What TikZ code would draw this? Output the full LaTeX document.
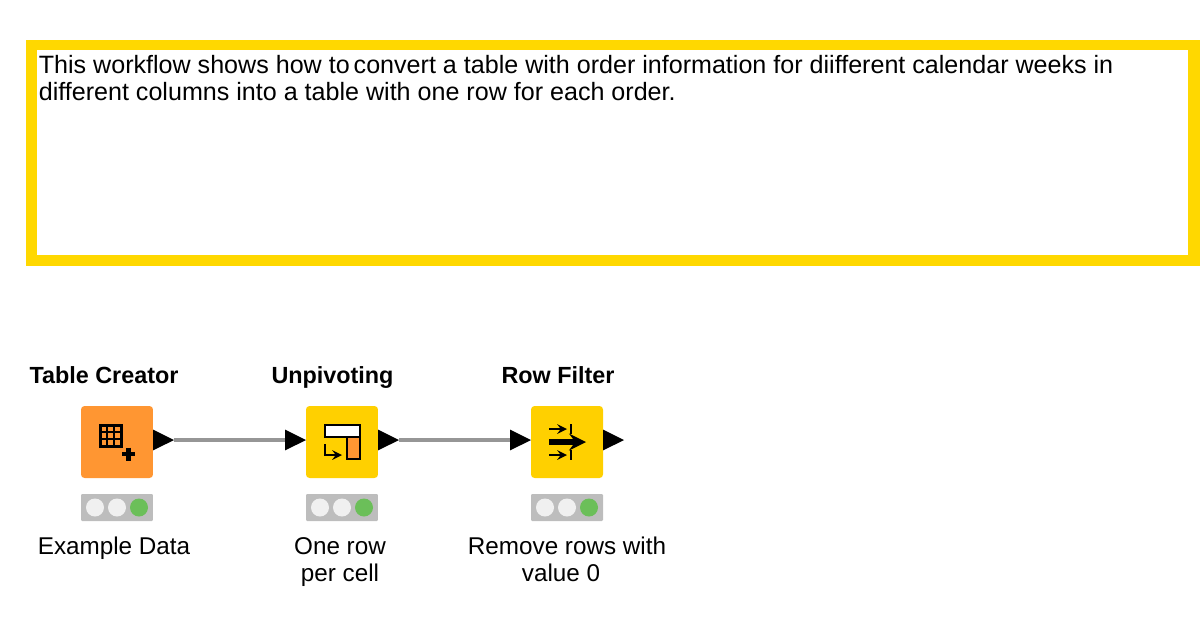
\documentclass[tikz,border=0pt]{standalone}
\usepackage{fontspec}
\setmainfont{Liberation Sans}
\usetikzlibrary{shapes.geometric}
\definecolor{annoyellow}{HTML}{FFD800}
\definecolor{mangle}{HTML}{FFD000}
\definecolor{source}{HTML}{FF9632}
\definecolor{lampgrey}{HTML}{BDBDBD}
\definecolor{lampoff}{HTML}{F0F0F0}
\definecolor{lampgreen}{HTML}{6BBF59}
\definecolor{wire}{HTML}{969696}
\tikzset{
  x=0.02cm,y=-0.02cm,
  nodebox/.style={rounded corners=2pt,minimum width=1.44cm,minimum height=1.44cm,inner sep=0pt},
  lampbar/.style={fill=lampgrey,rounded corners=0.6pt,minimum width=1.44cm,minimum height=0.54cm,inner sep=0pt},
  lamp/.style={circle,minimum size=0.36cm,inner sep=0pt},
  port/.style={isosceles triangle,isosceles triangle apex angle=53,fill=black,minimum height=0.42cm,inner sep=0pt,outer sep=0pt},
  title/.style={font=\fontsize{13.3}{15.3}\selectfont\bfseries,anchor=base},
  caption/.style={font=\fontsize{13.8}{15.3}\selectfont,align=center,anchor=north},
  link/.style={draw=wire,line width=0.09cm},
  glyph/.style={line width=0.05cm,draw=black}
}
\begin{document}
\begin{tikzpicture}
  \useasboundingbox (0,0) rectangle (1200,630);

  % Drawing annotation frame
  \fill [annoyellow] (26,39.5) rectangle (1200,265.5);
  \fill [white] (37,49.5) rectangle (1187.5,254.5);
  \node (note) [anchor=north west,inner sep=0pt,align=left,font=\fontsize{14.28}{15.4}\selectfont] at (38.5,54.5) {This workflow shows how to\hspace{0.08cm}convert a table with order information for diifferent calendar weeks in\\different columns into a table with one row for each order.};

  % Drawing node Table Creator
  \node (creator) [nodebox,fill=source] at (117,442) {};
  \node (creatorTitle) [title] at (104,383) {Table Creator};
  \node (creatorOut) [port,anchor=west] at (153,440) {};
  \node (creatorBar) [lampbar] at (117,507.5) {};
  \node (creatorA) [lamp,fill=lampoff] at (95,507.5) {};
  \node (creatorB) [lamp,fill=lampoff] at (117,507.5) {};
  \node (creatorC) [lamp,fill=lampgreen] at (139,507.5) {};
  \node (creatorText) [caption] at (114,531) {Example Data};
  % table glyph
  \draw [glyph,line width=0.06cm] (100,425) rectangle (121.5,446.5);
  \foreach \cellx in {107.2,114.3} \draw [glyph,line width=0.04cm] (\cellx,425) -- (\cellx,446.5);
  \foreach \celly in {432.2,439.3} \draw [glyph,line width=0.04cm] (100,\celly) -- (121.5,\celly);
  \draw [glyph,line width=0.09cm] (122,454) -- (135,454) (128.5,447.5) -- (128.5,460.5);

  % Drawing node Unpivoting
  \node (unpivot) [nodebox,fill=mangle] at (342,442) {};
  \node (unpivotTitle) [title] at (332.5,383) {Unpivoting};
  \node (unpivotIn) [port,anchor=east] at (306,440) {};
  \node (unpivotOut) [port,anchor=west] at (378,440) {};
  \node (unpivotBar) [lampbar] at (342,507.5) {};
  \node (unpivotA) [lamp,fill=lampoff] at (320,507.5) {};
  \node (unpivotB) [lamp,fill=lampoff] at (342,507.5) {};
  \node (unpivotC) [lamp,fill=lampgreen] at (364,507.5) {};
  \node (unpivotText) [caption] at (340,531) {One row\\per cell};
  % unpivot glyph
  \draw [glyph,line width=0.04cm,fill=white] (325,425) rectangle (359.5,436.5);
  \draw [glyph,line width=0.04cm,fill=source] (347,436.5) rectangle (359.5,459);
  \draw [glyph,-stealth] (325,444) -- (325,455) -- (342,455);

  % Drawing node Row Filter
  \node (filter) [nodebox,fill=mangle] at (567,442) {};
  \node (filterTitle) [title] at (558,383) {Row Filter};
  \node (filterIn) [port,anchor=east] at (531,440) {};
  \node (filterOut) [port,anchor=west] at (603,440) {};
  \node (filterBar) [lampbar] at (567,507.5) {};
  \node (filterA) [lamp,fill=lampoff] at (545,507.5) {};
  \node (filterB) [lamp,fill=lampoff] at (567,507.5) {};
  \node (filterC) [lamp,fill=lampgreen] at (589,507.5) {};
  \node (filterText) [caption] at (567,531) {Remove rows with\\value 0\hspace*{0.24cm}};
  % filter glyph
  \draw [glyph,-stealth] (549,429) -- (567,429);
  \draw [glyph] (571,424) -- (571,434);
  \draw [glyph,line width=0.11cm,-stealth] (549,442) -- (586,442);
  \draw [glyph,-stealth] (549,455) -- (567,455);
  \draw [glyph] (571,450) -- (571,460);

  % Drawing connections
  \draw [link] (creatorOut.east) -- (unpivotIn.west);
  \draw [link] (unpivotOut.east) -- (filterIn.west);
\end{tikzpicture}
\end{document}
